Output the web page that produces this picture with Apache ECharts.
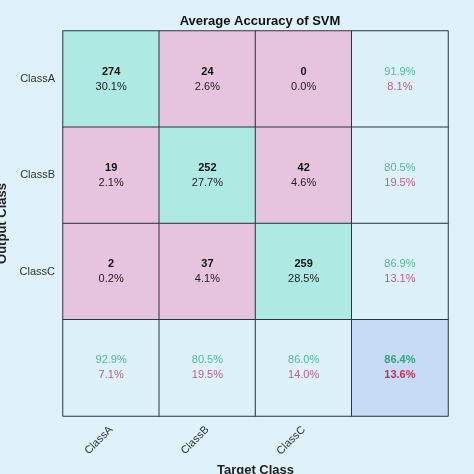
<!DOCTYPE html><html><head><meta charset="utf-8">
<script src="https://cdn.jsdelivr.net/npm/echarts@6/dist/echarts.min.js"></script>
<style>html,body{margin:0;padding:0;background:#dff1fb}#c{width:474px;height:474px}</style></head><body><div id="c"></div>
<script>
const classes = ['ClassA','ClassB','ClassC'];
const counts = [[274,24,0],[19,252,42],[2,37,259]]; // row = output, col = target
const percents = [['30.1%','2.6%','0.0%'],['2.1%','27.7%','4.6%'],['0.2%','4.1%','28.5%']];
const rowCorrect = ['91.9%','80.5%','86.9%'];
const rowWrong = ['8.1%','19.5%','13.1%'];
const colCorrect = ['92.9%','80.5%','86.0%'];
const colWrong = ['7.1%','19.5%','14.0%'];
const totalCorrect = '86.4%', totalWrong = '13.6%';

const xCats = classes.concat(['']);
const yCats = [''].concat(classes.slice().reverse());
const data = [];
for (let r=0;r<3;r++) for (let c=0;c<3;c++) {
  data.push({value:[c, 3-r, counts[r][c]], itemStyle:{color: r===c?'#aeeae3':'#e6c3df'},
    label:{formatter:'{b|'+counts[r][c]+'}\n{n|'+percents[r][c]+'}'}});
}
for (let r=0;r<3;r++) data.push({value:[3,3-r,0], itemStyle:{color:'#ddf1fb'},
  label:{formatter:'{g|'+rowCorrect[r]+'}\n{p|'+rowWrong[r]+'}'}});
for (let c=0;c<3;c++) data.push({value:[c,0,0], itemStyle:{color:'#ddf1fb'},
  label:{formatter:'{g|'+colCorrect[c]+'}\n{p|'+colWrong[c]+'}'}});
data.push({value:[3,0,0], itemStyle:{color:'#c8dbf6'},
  label:{formatter:'{gb|'+totalCorrect+'}\n{pb|'+totalWrong+'}'}});

const ff = 'Liberation Sans, Arial, sans-serif';
const chart = echarts.init(document.getElementById('c'));
chart.setOption({
  backgroundColor:'#dff1fb',
  title:{text:'Average Accuracy of SVM', left:255, top:10, textAlign:'center',
    textStyle:{fontFamily:ff,fontSize:13,fontWeight:'bold',color:'#111'}},
  grid:{left:63,right:26,top:31,bottom:58,containLabel:false,outerBoundsMode:'none'},
  xAxis:{type:'category',data:xCats,name:'Target Class',nameLocation:'middle',nameGap:48,
    nameTextStyle:{fontFamily:ff,fontSize:13,fontWeight:'bold',color:'#222'},
    axisLine:{show:false},axisTick:{show:false},splitLine:{show:false},
    axisLabel:{rotate:45,fontFamily:ff,fontSize:11,color:'#333',margin:12}},
  yAxis:{type:'category',data:yCats,name:'Output Class',nameLocation:'middle',nameGap:48,
    nameTextStyle:{fontFamily:ff,fontSize:13,fontWeight:'bold',color:'#222'},
    axisLine:{show:false},axisTick:{show:false},splitLine:{show:false},
    axisLabel:{fontFamily:ff,fontSize:11,color:'#333',margin:8}},
  series:[{type:'heatmap',data:data,
    itemStyle:{borderColor:'#2b3440',borderWidth:1},
    label:{show:true,fontFamily:ff,
      rich:{b:{fontWeight:'bold',fontSize:11,color:'#111',lineHeight:15},
        n:{fontSize:11,color:'#222',lineHeight:15},
        g:{fontSize:11,color:'#4dbb97',lineHeight:15},
        p:{fontSize:11,color:'#c05a8a',lineHeight:15},
        gb:{fontSize:11,fontWeight:'bold',color:'#2da874',lineHeight:15},
        pb:{fontSize:11,fontWeight:'bold',color:'#c0305a',lineHeight:15}}},
    emphasis:{disabled:true}}]
});
</script></body></html>
